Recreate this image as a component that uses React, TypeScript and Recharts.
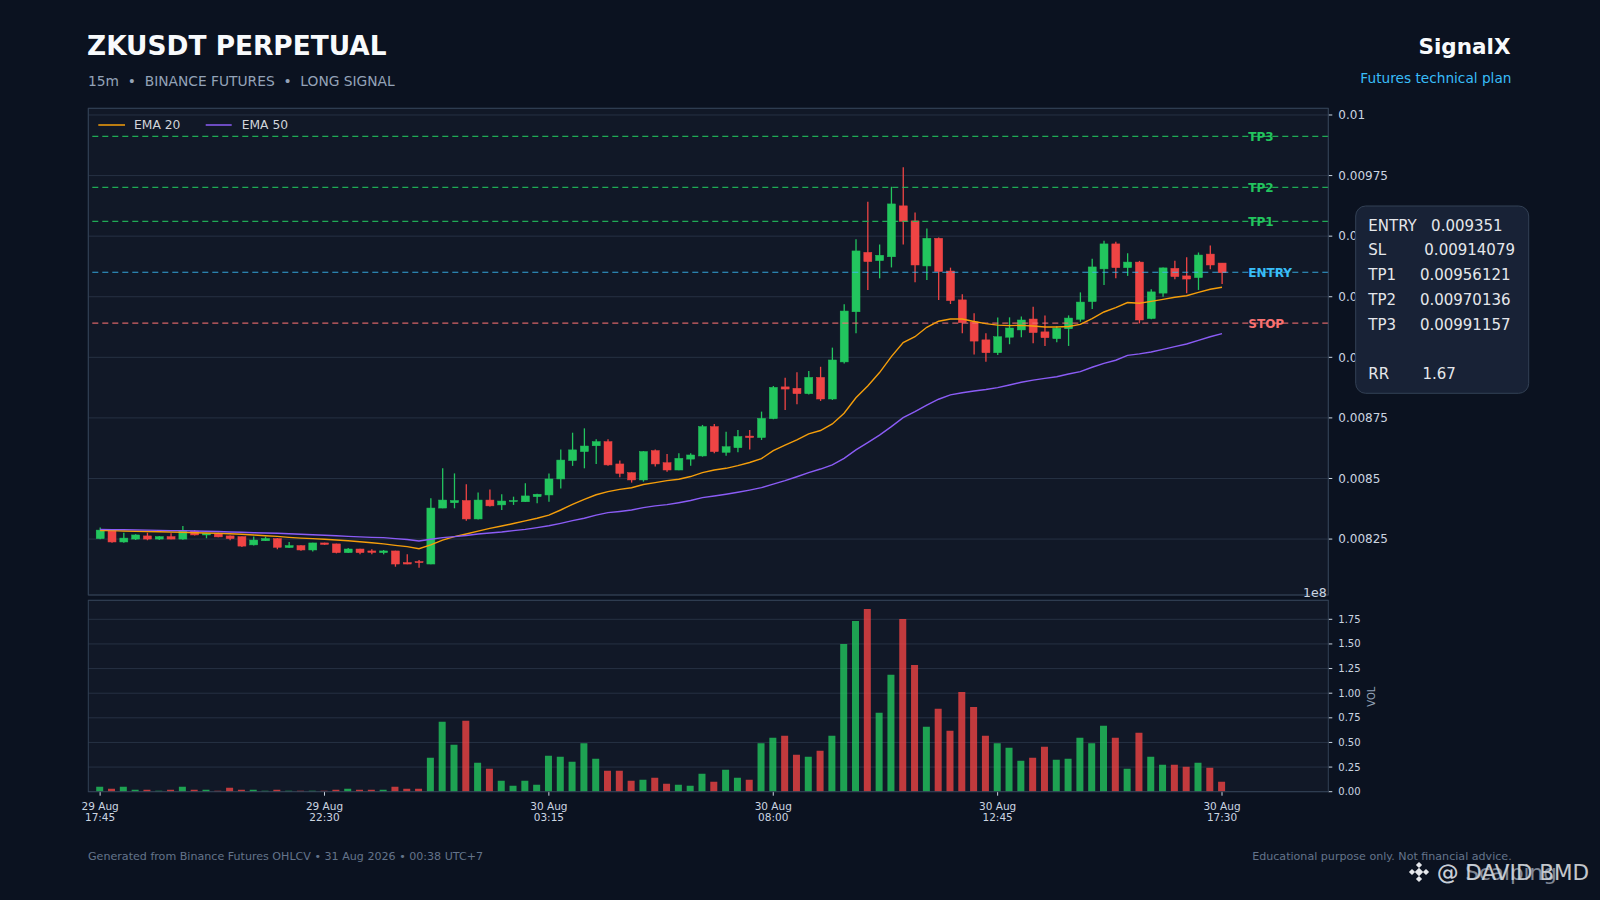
import React from 'react';
import { ComposedChart, Bar, Line, XAxis, YAxis, CartesianGrid, ReferenceLine, Cell } from 'recharts';

const FONT = '"DejaVu Sans", sans-serif';
const GREEN = '#22c55e';
const RED = '#ef4444';

// 15m candles, 29 Aug 17:45 -> 30 Aug 17:30
const opens = [
  0.008252, 0.008287, 0.008238, 0.008250, 0.008263, 0.008250, 0.008260, 0.008250, 0.008283, 0.008267,
  0.008274, 0.008263, 0.008260, 0.008226, 0.008243, 0.008252, 0.008215, 0.008223, 0.008205, 0.008234,
  0.008230, 0.008194, 0.008209, 0.008201, 0.008194, 0.008201, 0.008153, 0.008157, 0.008147, 0.008378,
  0.008400, 0.008409, 0.008333, 0.008411, 0.008391, 0.008406, 0.008404, 0.008425, 0.008432, 0.008498,
  0.008574, 0.008611, 0.008635, 0.008652, 0.008560, 0.008524, 0.008494, 0.008615, 0.008565, 0.008535,
  0.008580, 0.008593, 0.008714, 0.008608, 0.008627, 0.008675, 0.008669, 0.008747, 0.008878, 0.008872,
  0.008850, 0.008917, 0.008828, 0.008981, 0.009188, 0.009433, 0.009399, 0.009415, 0.009625, 0.009563,
  0.009377, 0.009491, 0.009356, 0.009237, 0.009146, 0.009072, 0.009019, 0.009083, 0.009113, 0.009158,
  0.009105, 0.009077, 0.009118, 0.009157, 0.009230, 0.009365, 0.009468, 0.009370, 0.009393, 0.009160,
  0.009265, 0.009367, 0.009336, 0.009329, 0.009426, 0.009389,
];
const highs = [
  0.008298, 0.008290, 0.008276, 0.008270, 0.008276, 0.008263, 0.008274, 0.008304, 0.008287, 0.008275,
  0.008276, 0.008265, 0.008261, 0.008261, 0.008260, 0.008254, 0.008238, 0.008224, 0.008235, 0.008235,
  0.008231, 0.008213, 0.008210, 0.008208, 0.008205, 0.008202, 0.008187, 0.008164, 0.008418, 0.008542,
  0.008521, 0.008476, 0.008442, 0.008455, 0.008435, 0.008425, 0.008480, 0.008437, 0.008521, 0.008620,
  0.008689, 0.008707, 0.008662, 0.008662, 0.008574, 0.008525, 0.008613, 0.008620, 0.008601, 0.008604,
  0.008604, 0.008721, 0.008725, 0.008693, 0.008700, 0.008700, 0.008776, 0.008882, 0.008916, 0.008938,
  0.008944, 0.008961, 0.009040, 0.009219, 0.009487, 0.009642, 0.009466, 0.009704, 0.009784, 0.009598,
  0.009532, 0.009494, 0.009370, 0.009260, 0.009182, 0.009099, 0.009164, 0.009165, 0.009168, 0.009209,
  0.009173, 0.009129, 0.009173, 0.009268, 0.009407, 0.009481, 0.009477, 0.009429, 0.009398, 0.009281,
  0.009371, 0.009399, 0.009413, 0.009433, 0.009461, 0.009389,
];
const lows = [
  0.008249, 0.008235, 0.008235, 0.008246, 0.008245, 0.008246, 0.008249, 0.008247, 0.008265, 0.008253,
  0.008257, 0.008245, 0.008217, 0.008223, 0.008242, 0.008208, 0.008213, 0.008202, 0.008199, 0.008226,
  0.008191, 0.008193, 0.008187, 0.008187, 0.008187, 0.008136, 0.008146, 0.008132, 0.008146, 0.008377,
  0.008377, 0.008326, 0.008331, 0.008384, 0.008370, 0.008391, 0.008403, 0.008398, 0.008404, 0.008459,
  0.008552, 0.008542, 0.008560, 0.008553, 0.008505, 0.008483, 0.008487, 0.008549, 0.008528, 0.008534,
  0.008553, 0.008590, 0.008604, 0.008594, 0.008608, 0.008620, 0.008659, 0.008744, 0.008783, 0.008806,
  0.008847, 0.008820, 0.008824, 0.008975, 0.009099, 0.009278, 0.009326, 0.009371, 0.009466, 0.009310,
  0.009319, 0.009237, 0.009220, 0.009099, 0.009012, 0.008982, 0.009010, 0.009054, 0.009083, 0.009058,
  0.009047, 0.009062, 0.009047, 0.009147, 0.009199, 0.009298, 0.009326, 0.009336, 0.009140, 0.009157,
  0.009250, 0.009322, 0.009264, 0.009278, 0.009363, 0.009303,
];
const closes = [
  0.008287, 0.008238, 0.008254, 0.008267, 0.008250, 0.008260, 0.008250, 0.008283, 0.008267, 0.008274,
  0.008259, 0.008252, 0.008221, 0.008246, 0.008252, 0.008216, 0.008223, 0.008205, 0.008234, 0.008228,
  0.008194, 0.008209, 0.008194, 0.008195, 0.008201, 0.008147, 0.008147, 0.008153, 0.008378, 0.008411,
  0.008409, 0.008333, 0.008411, 0.008387, 0.008407, 0.008409, 0.008428, 0.008435, 0.008498, 0.008576,
  0.008618, 0.008634, 0.008652, 0.008556, 0.008521, 0.008494, 0.008611, 0.008560, 0.008535, 0.008583,
  0.008597, 0.008714, 0.008611, 0.008631, 0.008673, 0.008669, 0.008748, 0.008876, 0.008869, 0.008850,
  0.008917, 0.008828, 0.008989, 0.009191, 0.009439, 0.009395, 0.009421, 0.009633, 0.009561, 0.009381,
  0.009491, 0.009354, 0.009234, 0.009143, 0.009067, 0.009019, 0.009085, 0.009121, 0.009154, 0.009102,
  0.009081, 0.009120, 0.009162, 0.009228, 0.009373, 0.009468, 0.009370, 0.009393, 0.009154, 0.009270,
  0.009369, 0.009333, 0.009323, 0.009422, 0.009381, 0.009349,
];
const ema20 = [
  0.008285, 0.008285, 0.008283, 0.008282, 0.008281, 0.008280, 0.008279, 0.008278, 0.008276, 0.008275,
  0.008274, 0.008272, 0.008270, 0.008267, 0.008264, 0.008261, 0.008257, 0.008254, 0.008252, 0.008249,
  0.008246, 0.008243, 0.008239, 0.008235, 0.008230, 0.008224, 0.008219, 0.008210, 0.008226, 0.008246,
  0.008260, 0.008271, 0.008283, 0.008294, 0.008304, 0.008314, 0.008325, 0.008336, 0.008349, 0.008370,
  0.008393, 0.008414, 0.008433, 0.008446, 0.008455, 0.008462, 0.008475, 0.008483, 0.008491, 0.008497,
  0.008508, 0.008524, 0.008535, 0.008542, 0.008553, 0.008566, 0.008582, 0.008615, 0.008638, 0.008659,
  0.008684, 0.008698, 0.008725, 0.008769, 0.008833, 0.008882, 0.008937, 0.009003, 0.009061, 0.009085,
  0.009124, 0.009149, 0.009158, 0.009158, 0.009148, 0.009139, 0.009133, 0.009131, 0.009132, 0.009129,
  0.009125, 0.009125, 0.009127, 0.009136, 0.009160, 0.009187, 0.009205, 0.009226, 0.009223, 0.009231,
  0.009239, 0.009248, 0.009254, 0.009268, 0.009281, 0.009289,
];
const ema50 = [
  0.008290, 0.008289, 0.008289, 0.008288, 0.008287, 0.008286, 0.008285, 0.008285, 0.008283, 0.008282,
  0.008281, 0.008279, 0.008278, 0.008276, 0.008275, 0.008274, 0.008272, 0.008270, 0.008268, 0.008266,
  0.008264, 0.008261, 0.008259, 0.008257, 0.008256, 0.008252, 0.008248, 0.008242, 0.008249, 0.008256,
  0.008260, 0.008265, 0.008271, 0.008275, 0.008279, 0.008285, 0.008290, 0.008297, 0.008305, 0.008315,
  0.008326, 0.008336, 0.008349, 0.008359, 0.008364, 0.008370, 0.008380, 0.008387, 0.008392, 0.008400,
  0.008409, 0.008421, 0.008428, 0.008435, 0.008443, 0.008452, 0.008462, 0.008477, 0.008491, 0.008507,
  0.008524, 0.008539, 0.008556, 0.008583, 0.008618, 0.008648, 0.008679, 0.008714, 0.008751, 0.008776,
  0.008803, 0.008827, 0.008845, 0.008854, 0.008861, 0.008867, 0.008875, 0.008886, 0.008897, 0.008906,
  0.008913, 0.008920, 0.008931, 0.008941, 0.008959, 0.008975, 0.008988, 0.009008, 0.009014, 0.009022,
  0.009033, 0.009044, 0.009055, 0.009070, 0.009085, 0.009098,
];
// volume in units of 1e8
const volumes = [
  0.051, 0.030, 0.051, 0.020, 0.020, 0.010, 0.020, 0.051, 0.020, 0.020,
  0.010, 0.041, 0.020, 0.020, 0.010, 0.020, 0.010, 0.010, 0.010, 0.010,
  0.020, 0.030, 0.020, 0.020, 0.020, 0.051, 0.030, 0.030, 0.345, 0.709,
  0.476, 0.720, 0.294, 0.233, 0.111, 0.061, 0.111, 0.071, 0.365, 0.355,
  0.304, 0.493, 0.334, 0.213, 0.213, 0.111, 0.122, 0.142, 0.081, 0.071,
  0.061, 0.182, 0.101, 0.223, 0.142, 0.122, 0.493, 0.547, 0.568, 0.375,
  0.355, 0.416, 0.568, 1.500, 1.733, 1.855, 0.801, 1.186, 1.753, 1.287,
  0.659, 0.841, 0.618, 1.013, 0.861, 0.568, 0.493, 0.446, 0.314, 0.345,
  0.456, 0.324, 0.334, 0.547, 0.493, 0.669, 0.547, 0.233, 0.598, 0.355,
  0.274, 0.274, 0.253, 0.294, 0.243, 0.101,
];

const xTickIndex = [0, 19, 38, 57, 76, 95];
const xTickDates = ['29 Aug', '29 Aug', '30 Aug', '30 Aug', '30 Aug', '30 Aug'];
const xTickTimes = ['17:45', '22:30', '03:15', '08:00', '12:45', '17:30'];
const priceTicks = [0.00825, 0.0085, 0.00875, 0.009, 0.00925, 0.0095, 0.00975, 0.01];
const volTicks = [0, 0.25, 0.5, 0.75, 1, 1.25, 1.5, 1.75];

const levelNames = ['TP3', 'TP2', 'TP1', 'ENTRY', 'STOP'];
const levelValues = [0.00991157, 0.00970136, 0.00956121, 0.009351, 0.00914079];
const levelColors = [GREEN, GREEN, GREEN, '#38bdf8', '#f87171'];

const planLines = [
  'ENTRY   0.009351',
  'SL        0.00914079',
  'TP1     0.00956121',
  'TP2     0.00970136',
  'TP3     0.00991157',
  '',
  'RR       1.67',
];

const X_DOMAIN = [-1, 104];
const PRICE_DOMAIN = [0.0080192, 0.0100276];
const VOL_DOMAIN = [0, 1.943];

const rows = opens.map((o, i) => ({
  i,
  open: o,
  high: highs[i],
  low: lows[i],
  close: closes[i],
  range: [lows[i], highs[i]],
  ema20: ema20[i],
  ema50: ema50[i],
  vol: volumes[i],
}));

const renderCandle = (props: any) => {
  const { x, y, width, height, payload } = props;
  if (x == null || y == null || !payload) return <g />;
  const top = Math.min(y, y + height);
  const span = Math.abs(height);
  const { open, close, high, low } = payload;
  const k = high === low ? 0 : span / (high - low);
  const yO = top + (high - open) * k;
  const yC = top + (high - close) * k;
  const color = close >= open ? GREEN : RED;
  const cx = x + width / 2;
  const bodyTop = Math.min(yO, yC);
  const bodyH = Math.max(Math.abs(yO - yC), 1);
  return (
    <g>
      <line x1={cx} x2={cx} y1={top} y2={top + span} stroke={color} strokeWidth={1.3} />
      <rect x={x} y={bodyTop} width={width} height={bodyH} fill={color} stroke={color} strokeWidth={0.5} />
    </g>
  );
};

const LevelLabel = (props: any) => {
  const { viewBox, text, color } = props;
  if (!viewBox) return null;
  return (
    <text
      x={viewBox.x + viewBox.width - 80}
      y={viewBox.y}
      dy="0.36em"
      fill={color}
      fontSize={12}
      fontWeight="bold"
      fontFamily={FONT}
    >
      {text}
    </text>
  );
};

const DateTick = (props: any) => {
  const { x, y, payload } = props;
  const k = xTickIndex.indexOf(payload.value);
  if (k < 0) return <g />;
  return (
    <text x={x} y={y} textAnchor="middle" fill="#cbd5e1" fontSize={10.5} fontFamily={FONT}>
      <tspan x={x} dy={12}>{xTickDates[k]}</tspan>
      <tspan x={x} dy={11.5}>{xTickTimes[k]}</tspan>
    </text>
  );
};

const tickStyle = { stroke: '#cbd5e1' };

export default function App() {
  return (
    <div style={{ position: 'fixed', left: 0, top: 0, width: 1600, height: 900, background: '#0b1220', overflow: 'hidden', fontFamily: FONT }}>
      <div style={{ position: 'absolute', left: 0, top: 0 }}>
        <ComposedChart width={1600} height={640} data={rows} margin={{ top: 108.3, right: 201.7, bottom: 25, left: 88.3 }}>
          <CartesianGrid stroke="#263143" fill="#111827" />
          <XAxis
            dataKey="i"
            type="number"
            domain={X_DOMAIN}
            ticks={xTickIndex}
            interval={0}
            allowDataOverflow
            tick={false}
            tickSize={4}
            tickLine={tickStyle}
            axisLine={false}
            height={20}
          />
          <YAxis
            orientation="right"
            type="number"
            domain={PRICE_DOMAIN}
            ticks={priceTicks}
            interval={0}
            allowDataOverflow
            width={70}
            tickSize={4}
            tickMargin={6}
            tickLine={tickStyle}
            axisLine={false}
            tick={{ fill: '#cbd5e1', fontSize: 12, fontFamily: FONT }}
            tickFormatter={(v: number) => String(v)}
          />
          {levelValues.map((v, k) => (
            <ReferenceLine
              key={levelNames[k]}
              y={v}
              stroke={levelColors[k]}
              strokeOpacity={0.85}
              strokeWidth={1.2}
              strokeDasharray="6 4"
              label={(p: any) => <LevelLabel {...p} text={levelNames[k]} color={levelColors[k]} />}
            />
          ))}
          <Line dataKey="ema20" type="linear" stroke="#f59e0b" strokeWidth={1.4} dot={false} activeDot={false} isAnimationActive={false} />
          <Line dataKey="ema50" type="linear" stroke="#8b5cf6" strokeWidth={1.4} dot={false} activeDot={false} isAnimationActive={false} />
          <Bar dataKey="range" barSize={8} shape={renderCandle} isAnimationActive={false} />
        </ComposedChart>
      </div>

      <div style={{ position: 'absolute', left: 0, top: 0 }}>
        <ComposedChart width={1600} height={900} data={rows} margin={{ top: 600.3, right: 201.7, bottom: 68.3, left: 88.3 }}>
          <CartesianGrid vertical={false} stroke="#263143" fill="#111827" />
          <XAxis
            dataKey="i"
            type="number"
            domain={X_DOMAIN}
            ticks={xTickIndex}
            interval={0}
            allowDataOverflow
            tick={<DateTick />}
            tickSize={4}
            tickLine={tickStyle}
            axisLine={false}
            height={40}
          />
          <YAxis
            orientation="right"
            type="number"
            domain={VOL_DOMAIN}
            ticks={volTicks}
            interval={0}
            allowDataOverflow
            width={70}
            tickSize={4}
            tickMargin={6}
            tickLine={tickStyle}
            axisLine={false}
            tick={{ fill: '#cbd5e1', fontSize: 10, fontFamily: FONT }}
            tickFormatter={(v: number) => v.toFixed(2)}
          />
          <Bar dataKey="vol" barSize={7} isAnimationActive={false}>
            {rows.map((r) => (
              <Cell key={r.i} fill={r.close >= r.open ? GREEN : RED} fillOpacity={0.8} />
            ))}
          </Bar>
        </ComposedChart>
      </div>

      <svg width={1600} height={900} style={{ position: 'absolute', left: 0, top: 0, pointerEvents: 'none' }} fontFamily={FONT}>
        {/* panel frames */}
        <rect x={88.3} y={108.3} width={1240} height={486.7} fill="none" stroke="#334155" strokeWidth={1} />
        <rect x={88.3} y={600.3} width={1240} height={191.4} fill="none" stroke="#334155" strokeWidth={1} />

        {/* header */}
        <text x={87} y={54.7} fill="#f8fafc" fontSize={26.4} fontWeight="bold">ZKUSDT PERPETUAL</text>
        <text x={88} y={86} fill="#94a3b8" fontSize={13.8} xmlSpace="preserve" style={{ whiteSpace: 'pre' }}>
          {'15m  \u2022  BINANCE FUTURES  \u2022  LONG SIGNAL'}
        </text>
        <text x={1510.5} y={54} fill="#f8fafc" fontSize={21.5} fontWeight="bold" textAnchor="end">SignalX</text>
        <text x={1511.5} y={82.7} fill="#38bdf8" fontSize={13.7} textAnchor="end">Futures technical plan</text>

        {/* legend */}
        <line x1={98.3} x2={125} y1={125} y2={125} stroke="#f59e0b" strokeWidth={1.5} />
        <text x={134} y={129.3} fill="#d1d5db" fontSize={12.3}>EMA 20</text>
        <line x1={205.7} x2={231.7} y1={125} y2={125} stroke="#8b5cf6" strokeWidth={1.5} />
        <text x={241.7} y={129.3} fill="#d1d5db" fontSize={12.3}>EMA 50</text>

        {/* volume axis extras */}
        <text x={1326.7} y={596.5} fill="#cbd5e1" fontSize={12.5} textAnchor="end">1e8</text>
        <text transform="translate(1375.3,696.7) rotate(-90)" fill="#94a3b8" fontSize={10} textAnchor="middle">VOL</text>

        {/* trade plan box */}
        <rect x={1355.7} y={206} width={173} height={187.3} rx={10} fill="#182236" stroke="#334155" strokeWidth={1} />
        {planLines.map((s, k) => (
          <text key={k} x={1368.3} y={230.6 + k * 24.8} fill="#e5e7eb" fontSize={15} xmlSpace="preserve" style={{ whiteSpace: 'pre' }}>
            {s}
          </text>
        ))}

        {/* footer */}
        <text x={88} y={859.6} fill="#64748b" fontSize={11.1}>
          {'Generated from Binance Futures OHLCV \u2022 31 Aug 2026 \u2022 00:38 UTC+7'}
        </text>
        <text x={1511.7} y={859.6} fill="#64748b" fontSize={11.1} textAnchor="end">
          Educational purpose only. Not financial advice.
        </text>

        {/* watermark */}
        <g transform="translate(1419,872)" fill="#e5e7eb">
          <rect x={-3} y={-3} width={6} height={6} transform="rotate(45)" />
          <rect x={-2.2} y={-9.2} width={4.4} height={4.4} transform="rotate(45 0 -7)" />
          <rect x={-2.2} y={4.8} width={4.4} height={4.4} transform="rotate(45 0 7)" />
          <rect x={-9.2} y={-2.2} width={4.4} height={4.4} transform="rotate(45 -7 0)" />
          <rect x={4.8} y={-2.2} width={4.4} height={4.4} transform="rotate(45 7 0)" />
        </g>
        <text x={1437} y={880} fill="#e5e7eb" fontSize={21.5} opacity={0.85}>@ DAVID BMD</text>
        <text x={1437} y={880} fill="#cbd5e1" fontSize={21.5} opacity={0.6}>@ Scalping</text>
      </svg>
    </div>
  );
}
